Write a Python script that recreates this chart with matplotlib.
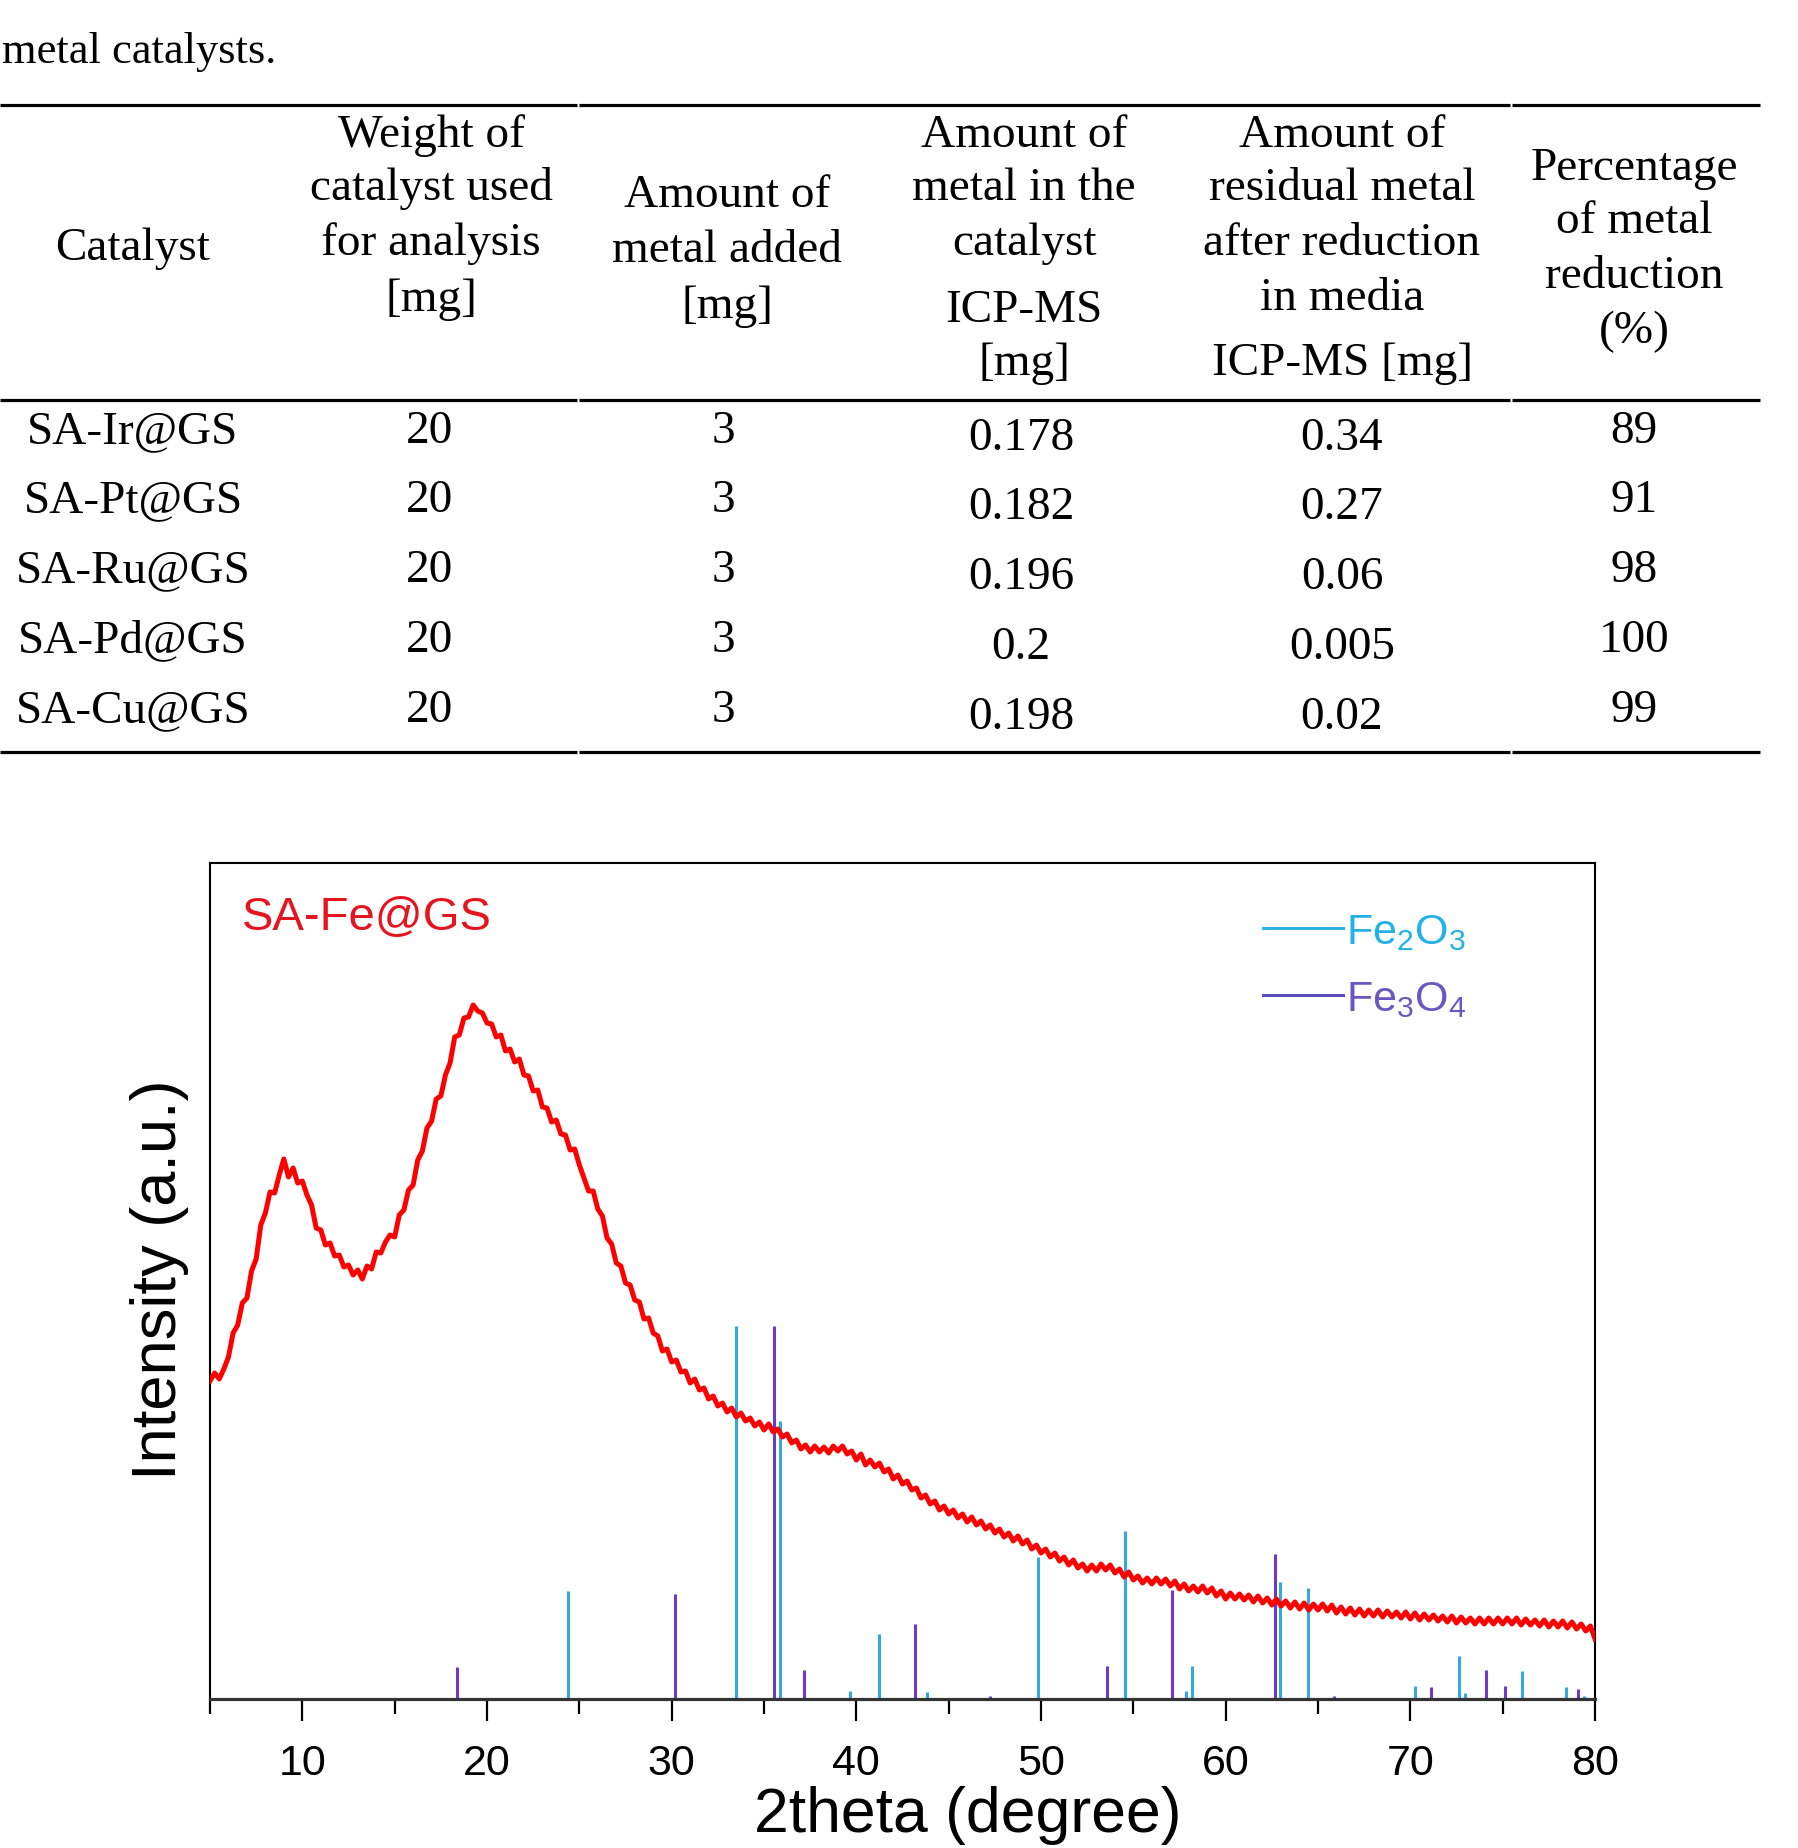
import numpy as np
import matplotlib
matplotlib.use("Agg")
import matplotlib.pyplot as plt
from matplotlib.lines import Line2D
from matplotlib.ticker import MultipleLocator

# ---------------- data: table ----------------
caption = "metal catalysts."
header_lines = [
    ["Catalyst"],
    ["Weight of", "catalyst used", "for analysis", "[mg]"],
    ["Amount of", "metal added", "[mg]"],
    ["Amount of", "metal in the", "catalyst", "ICP-MS", "[mg]"],
    ["Amount of", "residual metal", "after reduction", "in media", "ICP-MS [mg]"],
    ["Percentage", "of metal", "reduction", "(%)"],
]
catalysts = ["SA-Ir@GS", "SA-Pt@GS", "SA-Ru@GS", "SA-Pd@GS", "SA-Cu@GS"]
weight_mg = ["20", "20", "20", "20", "20"]
metal_added_mg = ["3", "3", "3", "3", "3"]
metal_in_catalyst_mg = ["0.178", "0.182", "0.196", "0.2", "0.198"]
residual_metal_mg = ["0.34", "0.27", "0.06", "0.005", "0.02"]
reduction_pct = ["89", "91", "98", "100", "99"]

# ---------------- data: XRD ----------------
sample_label = "SA-Fe@GS"
two_theta = np.arange(5.0, 80.0001, 0.25)
intensity = [
    318, 326, 320, 330, 342, 366, 374, 396, 401, 428, 440, 474, 486, 507, 506, 524, 540, 522, 531, 516,
    518, 504, 494, 471, 469, 454, 456, 443, 444, 432, 434, 424, 429, 420, 433, 430, 447, 446, 457, 464,
    462, 484, 489, 509, 514, 539, 548, 571, 578, 600, 603, 624, 636, 662, 664, 681, 682, 694, 688, 686,
    676, 675, 662, 664, 648, 650, 637, 640, 624, 623, 608, 609, 592, 591, 577, 579, 565, 564, 549, 550,
    534, 521, 508, 508, 490, 483, 461, 455, 436, 433, 416, 414, 399, 397, 380, 381, 366, 363, 348, 350,
    337, 339, 327, 328, 316, 320, 309, 311, 300, 303, 293, 296, 287, 291, 282, 286, 278, 281, 273, 277,
    269, 275, 267, 270, 262, 265, 256, 259, 250, 254, 247, 253, 247, 252, 246, 253, 248, 253, 245, 248,
    239, 245, 234, 239, 232, 236, 227, 230, 220, 224, 215, 218, 209, 211, 201, 204, 195, 198, 189, 193,
    185, 189, 181, 185, 177, 182, 174, 178, 170, 174, 166, 170, 162, 166, 158, 163, 155, 159, 150, 154,
    146, 150, 142, 146, 138, 142, 134, 139, 131, 135, 128, 134, 128, 135, 129, 134, 126, 130, 122, 127,
    119, 123, 116, 121, 115, 121, 115, 120, 113, 118, 110, 115, 108, 113, 107, 113, 106, 111, 103, 108,
    100, 106, 100, 105, 99, 104, 97, 103, 96, 101, 94, 100, 93, 98, 91, 97, 90, 96, 89, 95,
    89, 95, 88, 94, 86, 92, 85, 91, 84, 90, 83, 89, 83, 89, 82, 88, 82, 87, 81, 87,
    80, 86, 79, 85, 79, 84, 78, 83, 77, 83, 76, 82, 76, 81, 75, 81, 75, 81, 75, 81,
    75, 81, 75, 81, 74, 80, 74, 79, 73, 79, 72, 78, 72, 78, 71, 77, 70, 75, 68, 73,
    60,
]
fe2o3_pos = [24.37, 33.48, 35.88, 39.64, 41.21, 43.84, 49.85, 54.54, 57.87, 58.17,
             62.93, 64.47, 70.24, 72.65, 72.96, 76.05, 78.42, 79.40]
fe2o3_int = [108, 373, 278, 8, 65, 7, 142, 168, 8, 33,
             117, 111, 13, 43, 6, 28, 12, 3]
fe3o4_pos = [18.37, 30.18, 35.54, 37.17, 43.18, 47.25, 53.56, 57.10, 62.68, 65.87,
             71.10, 74.10, 75.15, 79.09]
fe3o4_int = [32, 105, 373, 29, 75, 3, 33, 109, 145, 3,
             12, 29, 13, 10]
legend_labels = [r"Fe$_2$O$_3$", r"Fe$_3$O$_4$"]
x_label = "2theta (degree)"
y_label = "Intensity (a.u.)"

# ---------------- layout / style ----------------
W, H = 1798, 1849
plt.rcParams["font.family"] = ["Liberation Sans", "DejaVu Sans"]
plt.rcParams["mathtext.default"] = "regular"
SERIF = ["Liberation Serif", "DejaVu Serif"]
TFS = 34

fig = plt.figure(figsize=(W / 100, H / 100), dpi=100)


def ftext(x, y, s, **kw):
    fig.text(x / W, 1 - y / H, s, **kw)


def frule(x0, x1, y, lw=2.3):
    fig.add_artist(Line2D([x0 / W, x1 / W], [1 - y / H, 1 - y / H],
                          transform=fig.transFigure, color="black", lw=lw,
                          solid_capstyle="butt"))


# caption
ftext(2, 63, caption, fontsize=32, family=SERIF, ha="left", va="baseline")

# rules
segments = [(0, 577), (579, 1510), (1512, 1760)]
for yr in (106, 401, 753):
    for x0, x1 in segments:
        frule(x0, x1, yr)

header_x = [133, 431, 727, 1024, 1342, 1634]
header_base = [
    [260],
    [147, 200, 255, 311],
    [207, 262, 318],
    [147, 200, 255, 322, 375],
    [147, 200, 255, 310, 375],
    [180, 233, 288, 343],
]
for cx, lines, bases in zip(header_x, header_lines, header_base):
    for s, yb in zip(lines, bases):
        ftext(cx, yb, s, fontsize=TFS, family=SERIF, ha="center", va="baseline")

data_x = [133, 430, 723, 1021, 1342, 1634]
row_base = [443, 512, 582, 652, 722]
cols = [catalysts, weight_mg, metal_added_mg, metal_in_catalyst_mg,
        residual_metal_mg, reduction_pct]
col_dy = [0, 0, 0, 7, 7, 0]
for cx, col, dy in zip(data_x, cols, col_dy):
    for s, yb in zip(col, row_base):
        ftext(cx, yb + dy, s, fontsize=TFS, family=SERIF, ha="center", va="baseline")

# ---------------- XRD chart ----------------
ax = fig.add_axes([210 / W, 1 - 1700 / H, 1385 / W, 836 / H])
CYAN = "#33A9DD"
PURPLE = "#6E38C8"
ax.vlines(fe2o3_pos, 0, fe2o3_int, colors=CYAN, lw=2.2, zorder=2)
ax.vlines(fe3o4_pos, 0, fe3o4_int, colors=PURPLE, lw=2.2, zorder=2)
ax.plot(two_theta, intensity, color="#FF0000", lw=3.6, zorder=3)

ax.set_xlim(5, 80)
ax.set_ylim(0, 836)
ax.set_yticks([])
ax.xaxis.set_major_locator(MultipleLocator(10))
ax.xaxis.set_minor_locator(MultipleLocator(5))
ax.tick_params(axis="x", which="major", direction="out", length=16, width=1.6,
               pad=16, labelsize=31)
ax.tick_params(axis="x", which="minor", direction="out", length=11, width=1.6)
for side in ("left", "right", "top"):
    ax.spines[side].set_linewidth(1.5)
ax.spines["bottom"].set_linewidth(2.3)
ax.spines["bottom"].set_color("#333333")

ax.set_xlabel(x_label, fontsize=45)
ax.xaxis.set_label_coords(0.547, -0.103)
ax.set_ylabel(y_label, fontsize=45.5)
ax.yaxis.set_label_coords(-0.0155, 0.503)

ax.text(0.0231, 0.921, sample_label, transform=ax.transAxes, color="#E6141E",
        fontsize=34, ha="left", va="baseline")

leg_line_colors = ["#2FB4E6", "#5B4DB8"]
leg_text_colors = ["#22B2E8", "#6A57C2"]
for lab, lc, tc, yl, yb in zip(legend_labels, leg_line_colors, leg_text_colors,
                               (0.9222, 0.8421), (0.9043, 0.8242)):
    ax.plot([0.7603, 0.818], [yl, yl], transform=ax.transAxes, color=lc, lw=2.2)
    ax.text(0.8205, yb, lab, transform=ax.transAxes, color=tc, fontsize=31,
            ha="left", va="baseline")

fig.savefig("out.png", dpi=100)
